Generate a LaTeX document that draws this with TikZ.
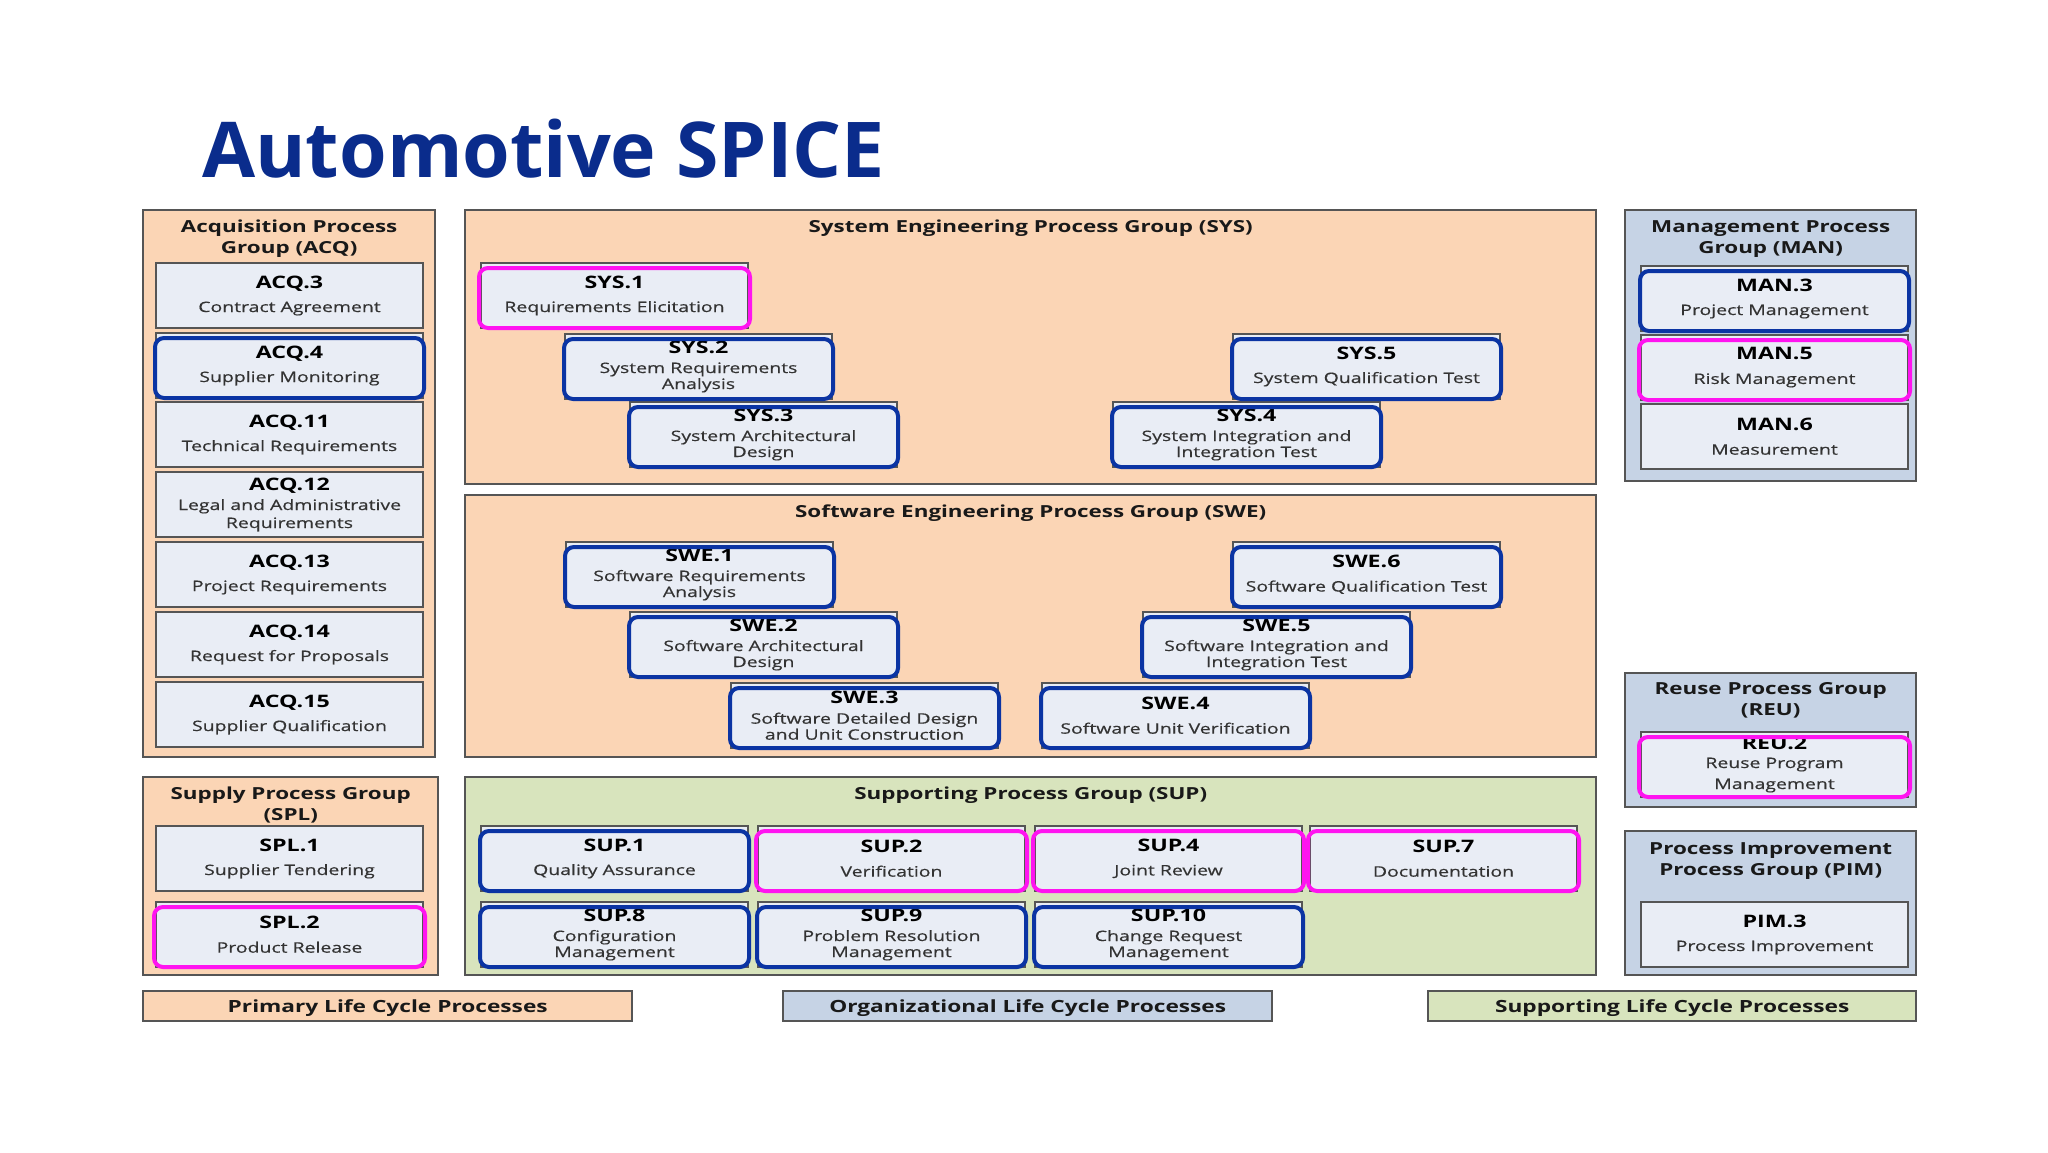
\documentclass[tikz,border=0pt]{standalone}
\usepackage{fontspec}
\setmainfont{Open Sans}[FakeStretch=1.35]
\newfontfamily\titlefont{Open Sans}
\newfontfamily\descfont{Open Sans}[FakeStretch=1.35, FakeBold=0.5]
\usetikzlibrary{positioning}
\definecolor{peach}{HTML}{FBD5B5}
\definecolor{steel}{HTML}{C6D3E5}
\definecolor{sage}{HTML}{D8E4BD}
\definecolor{boxfill}{HTML}{E9EDF5}
\definecolor{edge}{HTML}{555555}
\definecolor{hlblue}{HTML}{0B34A3}
\definecolor{hlpink}{HTML}{FF14F0}
\definecolor{titleblue}{HTML}{0A2C8C}
\definecolor{desc}{HTML}{333333}
\tikzset{
  grp/.style = {draw=edge, line width=2.4pt, anchor=north west, inner sep=0pt},
  grptitle/.style = {font=\bfseries\fontsize{16.6}{21}\selectfont, align=center, text=black!90, inner sep=0pt},
  proc/.style = {draw=edge, line width=2pt, fill=boxfill, anchor=north west, minimum width=267pt,
    minimum height=65pt, inner sep=0pt, align=center, text=desc, font=\descfont\fontsize{14.4}{16}\selectfont},
  hl/.style = {line width=4pt, rounded corners=9pt},
  lcbar/.style = {draw=edge, line width=2.4pt, anchor=north west, minimum height=30pt, inner sep=0pt,
    text height=14pt, text depth=1pt, font=\bfseries\fontsize{16.8}{20}\selectfont, text=black!90}
}
\newcommand{\pcode}[1]{{\normalfont\bfseries\fontsize{17.2}{16}\selectfont\color{black}#1}}

\begin{document}
\begin{tikzpicture}[x=1pt, y=-1pt]

  \useasboundingbox (0,0) rectangle (2048,1152);

  %% Title
  \node[anchor=base west, inner sep=0pt, text=titleblue,
    font=\titlefont\bfseries\fontsize{77}{84}\selectfont] (title) at (202,177) {Automotive SPICE};

  %% Process groups
  \node[grp, fill=peach, minimum width=292pt, minimum height=547pt] (acq) at (142,209) {};
  \node[grp, fill=peach, minimum width=1131pt, minimum height=274pt] (sys) at (464,209) {};
  \node[grp, fill=peach, minimum width=1131pt, minimum height=262pt] (swe) at (464,494) {};
  \node[grp, fill=steel, minimum width=291pt, minimum height=271pt] (man) at (1624,209) {};
  \node[grp, fill=steel, minimum width=291pt, minimum height=134pt] (reu) at (1624,672) {};
  \node[grp, fill=steel, minimum width=291pt, minimum height=144pt] (pim) at (1624,830) {};
  \node[grp, fill=peach, minimum width=295pt, minimum height=198pt] (spl) at (142,776) {};
  \node[grp, fill=sage, minimum width=1131pt, minimum height=198pt] (sup) at (464,776) {};

  % Group titles
  \node[grptitle, below=11pt of acq.north] (acqtitle) {Acquisition Process\\Group (ACQ)};
  \node[grptitle, below=11pt of sys.north] (systitle) {System Engineering Process Group (SYS)};
  \node[grptitle, below=11pt of swe.north] (swetitle) {Software Engineering Process Group (SWE)};
  \node[grptitle, below=11pt of man.north] (mantitle) {Management Process\\Group (MAN)};
  \node[grptitle, below=10pt of reu.north] (reutitle) {Reuse Process Group\\(REU)};
  \node[grptitle, below=12pt of pim.north] (pimtitle) {Process Improvement\\Process Group (PIM)};
  \node[grptitle, below=11pt of spl.north] (spltitle) {Supply Process Group\\(SPL)};
  \node[grptitle, below=11pt of sup.north] (suptitle) {Supporting Process Group (SUP)};

  %% Acquisition
  \node[proc] (acq3) at (155,262) {\pcode{ACQ.3}\\[8pt]Contract Agreement};
  \node[proc] (acq4) at (155,332) {\pcode{ACQ.4}\\[8pt]Supplier Monitoring};
  \node[proc] (acq11) at (155,401) {\pcode{ACQ.11}\\[8pt]Technical Requirements};
  \node[proc] (acq12) at (155,471) {\pcode{ACQ.12}\\[4pt]Legal and Administrative\\[2pt]Requirements};
  \node[proc] (acq13) at (155,541) {\pcode{ACQ.13}\\[8pt]Project Requirements};
  \node[proc] (acq14) at (155,611) {\pcode{ACQ.14}\\[8pt]Request for Proposals};
  \node[proc] (acq15) at (155,681) {\pcode{ACQ.15}\\[8pt]Supplier Qualification};

  %% System engineering
  \node[proc] (sys1) at (480,262) {\pcode{SYS.1}\\[8pt]Requirements Elicitation};
  \node[proc] (sys2) at (564,333) {\pcode{SYS.2}\\[4pt]System Requirements\\Analysis};
  \node[proc] (sys3) at (629,401) {\pcode{SYS.3}\\[4pt]System Architectural\\Design};
  \node[proc] (sys4) at (1112,401) {\pcode{SYS.4}\\[4pt]System Integration and\\Integration Test};
  \node[proc] (sys5) at (1232,333) {\pcode{SYS.5}\\[8pt]System Qualification Test};

  %% Software engineering
  \node[proc] (swe1) at (565,541) {\pcode{SWE.1}\\[4pt]Software Requirements\\Analysis};
  \node[proc] (swe2) at (629,611) {\pcode{SWE.2}\\[4pt]Software Architectural\\Design};
  \node[proc] (swe3) at (730,682) {\pcode{SWE.3}\\[4pt]Software Detailed Design\\and Unit Construction};
  \node[proc] (swe4) at (1041,682) {\pcode{SWE.4}\\[8pt]Software Unit Verification};
  \node[proc] (swe5) at (1142,611) {\pcode{SWE.5}\\[4pt]Software Integration and\\Integration Test};
  \node[proc] (swe6) at (1232,541) {\pcode{SWE.6}\\[8pt]Software Qualification Test};

  %% Management, reuse, process improvement
  \node[proc] (man3) at (1640,265) {\pcode{MAN.3}\\[8pt]Project Management};
  \node[proc] (man5) at (1640,334) {\pcode{MAN.5}\\[8pt]Risk Management};
  \node[proc] (man6) at (1640,403) {\pcode{MAN.6}\\[8pt]Measurement};
  \node[proc] (reu2) at (1640,731) {\pcode{REU.2}\\[3pt]Reuse Program\\[5pt]Management};
  \node[proc] (pim3) at (1640,901) {\pcode{PIM.3}\\[8pt]Process Improvement};

  %% Supply
  \node[proc] (spl1) at (155,825) {\pcode{SPL.1}\\[8pt]Supplier Tendering};
  \node[proc] (spl2) at (155,901) {\pcode{SPL.2}\\[8pt]Product Release};

  %% Supporting
  \node[proc] (sup1) at (480,825) {\pcode{SUP.1}\\[8pt]Quality Assurance};
  \node[proc] (sup2) at (757,825) {\pcode{SUP.2}\\[8pt]Verification};
  \node[proc] (sup4) at (1034,825) {\pcode{SUP.4}\\[8pt]Joint Review};
  \node[proc] (sup7) at (1309,825) {\pcode{SUP.7}\\[8pt]Documentation};
  \node[proc] (sup8) at (480,901) {\pcode{SUP.8}\\[4pt]Configuration\\Management};
  \node[proc] (sup9) at (757,901) {\pcode{SUP.9}\\[4pt]Problem Resolution\\Management};
  \node[proc] (sup10) at (1034,901) {\pcode{SUP.10}\\[4pt]Change Request\\Management};

  % Highlight frames
  \foreach \n in {acq4, sys2, sys3, sys4, sys5, swe1, swe2, swe3, swe4, swe5, swe6, man3, sup1, sup8, sup9, sup10}
    \draw[hl, draw=hlblue] ([shift={(0,6)}]\n.north west) rectangle ([shift={(0,-1)}]\n.south east);
  \foreach \n in {sys1, man5, reu2, spl2, sup2, sup4, sup7}
    \draw[hl, draw=hlpink] ([shift={(-1,6)}]\n.north west) rectangle ([shift={(1,-1)}]\n.south east);

  %% Life cycle legend
  \node[lcbar, fill=peach, minimum width=489pt] (primary) at (142,990) {Primary Life Cycle Processes};
  \node[lcbar, fill=steel, minimum width=489pt] (organizational) at (782,990) {Organizational Life Cycle Processes};
  \node[lcbar, fill=sage, minimum width=488pt] (supporting) at (1427,990) {Supporting Life Cycle Processes};

\end{tikzpicture}
\end{document}
